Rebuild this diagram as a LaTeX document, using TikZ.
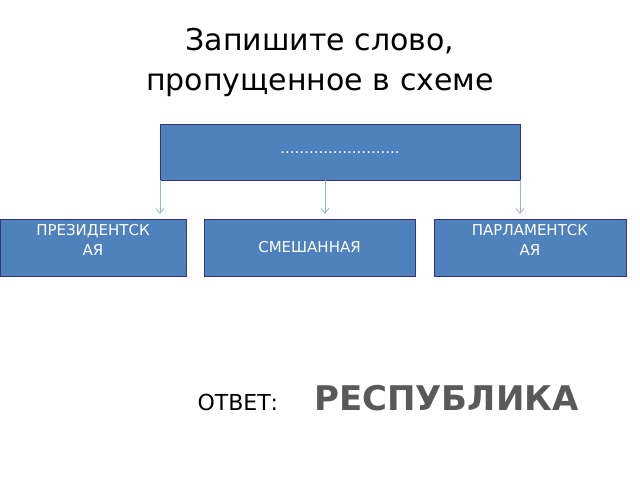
\documentclass[tikz,border=0pt]{standalone}
\usepackage{fontspec}
\setmainfont{DejaVu Sans}
\usetikzlibrary{arrows.meta}
\tikzset{
  blockbox/.style={draw=blue!40!black!80, line width=0.8pt, fill={rgb,255:red,79;green,129;blue,189},
    text=white, font=\fontsize{15}{20}\selectfont, inner sep=2pt},
  linkarrow/.style={draw={rgb,255:red,149;green,179;blue,215}, line width=0.8pt, -{Straight Barb[length=5pt,width=8pt]}}
}
\begin{document}
\begin{tikzpicture}[x=1pt,y=-1pt]
  \useasboundingbox (0,0) rectangle (640,480);
  % title
  \node (title) [align=center, font=\fontsize{30}{40}\selectfont] at (320,62) {Запишите слово,\\пропущенное в схеме};
  % boxes
  \node (top) [blockbox, minimum width=360pt, minimum height=56pt] at (340,152) {\raisebox{-3pt}{.........................}};
  \node (pres) [blockbox, minimum width=186pt, minimum height=57pt, text width=182pt, align=center] at (93,247.5) {ПРЕЗИДЕНТСК\\АЯ\\[-4pt]\mbox{}};
  \node (mix) [blockbox, minimum width=211pt, minimum height=57pt] at (309.5,247.5) {СМЕШАННАЯ};
  \node (parl) [blockbox, minimum width=192pt, minimum height=57pt, text width=188pt, align=center] at (530,247.5) {ПАРЛАМЕНТСК\\АЯ\\[-4pt]\mbox{}};
  % connectors
  \coordinate (pa) at (160,214);
  \coordinate (ma) at (325,214);
  \coordinate (qa) at (520,214);
  \draw[linkarrow] (top.south west -| pa) -- (pa);
  \draw[linkarrow] (top.south -| ma) -- (ma);
  \draw[linkarrow] (top.south east -| qa) -- (qa);
  % answer
  \node (ans) [anchor=west, font=\fontsize{22}{26}\selectfont] at (194,402) {ОТВЕТ:};
  \node (word) [anchor=west, font=\fontsize{34}{40}\selectfont\bfseries, text=black!65, inner sep=0pt] at (314,398) {РЕСПУБЛИКА};
\end{tikzpicture}
\end{document}
